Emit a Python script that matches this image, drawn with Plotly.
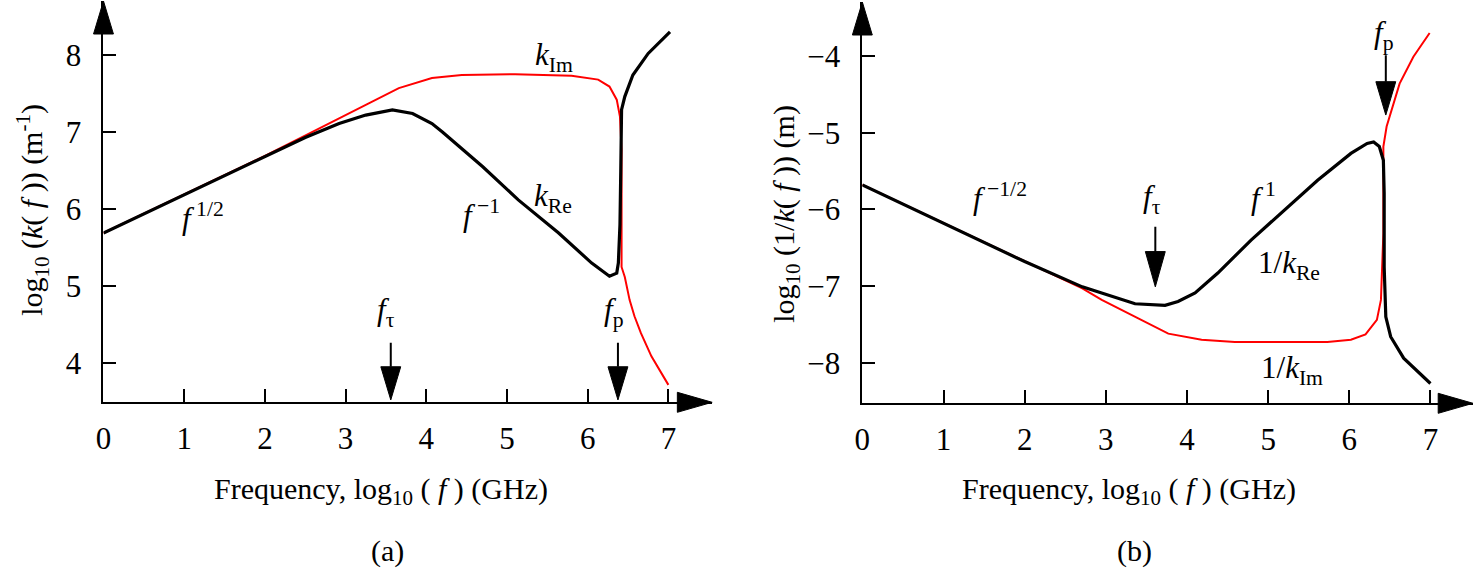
import plotly.graph_objects as go

W, H = 1475, 571
FONT = "Liberation Serif"

# ---------------- data: panel (a) ----------------
x_kre = [0, 1.0, 2.0, 2.5, 2.92, 3.25, 3.58, 3.83, 4.07, 4.2, 4.7, 5.14, 5.64, 6.05, 6.27,
         6.36, 6.38, 6.40, 6.41, 6.42, 6.46, 6.56, 6.75, 7.02]
y_kre = [5.69, 6.19, 6.69, 6.93, 7.11, 7.22, 7.287, 7.24, 7.11, 7.0, 6.55, 6.12, 5.69, 5.30, 5.13,
         5.17, 5.30, 5.8, 6.5, 7.29, 7.46, 7.74, 8.02, 8.30]
x_kim = [0, 1.0, 2.0, 2.51, 3.0, 3.66, 4.07, 4.44, 5.1, 5.8, 6.13, 6.27, 6.36, 6.40, 6.42,
         6.42, 6.46, 6.52, 6.58, 6.66, 6.79, 7.0]
y_kim = [5.69, 6.19, 6.69, 6.96, 7.22, 7.57, 7.70, 7.74, 7.75, 7.73, 7.68, 7.59, 7.42, 7.2, 6.77,
         5.25, 5.12, 4.82, 4.61, 4.39, 4.09, 3.72]

# ---------------- data: panel (b) ----------------
x_ikre = [0, 1.0, 2.0, 2.71, 2.95, 3.36, 3.73, 3.89, 4.10, 4.38, 4.79, 5.2, 5.61, 6.02, 6.22,
          6.30, 6.37, 6.42, 6.43, 6.43, 6.45, 6.51, 6.67, 7.0]
y_ikre = [-5.68, -6.18, -6.68, -7.01, -7.09, -7.23, -7.25, -7.20, -7.09, -6.83, -6.40, -6.01,
          -5.62, -5.27, -5.14, -5.12, -5.18, -5.36, -5.79, -6.75, -7.40, -7.66, -7.94, -8.27]
x_ikim = [0, 1.0, 2.0, 2.71, 2.95, 3.36, 3.77, 4.18, 4.59, 5.73, 6.02, 6.20, 6.34, 6.39, 6.42,
          6.42, 6.46, 6.62, 6.79, 6.99]
y_ikim = [-5.68, -6.18, -6.68, -7.03, -7.18, -7.40, -7.62, -7.70, -7.73, -7.73, -7.70, -7.63,
          -7.44, -7.18, -6.31, -5.18, -4.92, -4.36, -4.01, -3.70]

x_ticks = [0, 1, 2, 3, 4, 5, 6, 7]
ya_ticks = [4, 5, 6, 7, 8]
yb_ticks = [-8, -7, -6, -5, -4]

# marker arrows: (x, shaft top, head base, tip)
arrows_a = [(3.56, 4.265, 3.955, 3.525), (6.375, 4.265, 3.955, 3.525)]
arrows_b = [(3.61, -6.225, -6.55, -7.01), (6.45, -3.99, -4.335, -4.77)]

labels_a = [
    ("<i>k</i><sub>Im</sub>", 5.58, 7.97),
    ("<i>k</i><sub>Re</sub>", 5.57, 6.14),
    ("<i>f</i><sup> \u22121</sup>", 4.68, 5.94),
    ("<i>f</i><sup> 1/2</sup>", 1.23, 5.91),
    ("<i>f</i><sub>\u03c4</sub>", 3.50, 4.66),
    ("<i>f</i><sub>p</sub>", 6.32, 4.66),
]
labels_b = [
    ("<i>f</i><sup> \u22121/2</sup>", 1.70, -5.83),
    ("<i>f</i><sub>\u03c4</sub>", 3.57, -5.86),
    ("<i>f</i><sup> 1</sup>", 4.94, -5.83),
    ("1/<i>k</i><sub>Re</sub>", 5.26, -6.72),
    ("1/<i>k</i><sub>Im</sub>", 5.29, -8.09),
    ("<i>f</i><sub>p</sub>", 6.42, -3.72),
]

# ---------------- frame geometry (pixels) ----------------
A_X0, A_XTIP, A_YAX, A_YTIP = 96, 708, 402.3, 1
B_X0, B_XTIP, B_YAX, B_YTIP = 859, 1473, 403.3, 2
PX_PER_X_A, PX_PER_X_B = 81.14, 81.6
YA_RANGE = [3.494, 8.70]
YB_RANGE = [-8.528, -3.296]


def pxx(p):
    return p / W


def pxy(p):
    return 1 - p / H


fig = go.Figure()
fig.add_trace(go.Scatter(x=x_kim, y=y_kim, mode="lines", line=dict(color="#ff0000", width=2),
                         xaxis="x", yaxis="y", showlegend=False))
fig.add_trace(go.Scatter(x=x_kre, y=y_kre, mode="lines", line=dict(color="black", width=3.2),
                         xaxis="x", yaxis="y", showlegend=False))
fig.add_trace(go.Scatter(x=x_ikim, y=y_ikim, mode="lines", line=dict(color="#ff0000", width=2),
                         xaxis="x2", yaxis="y2", showlegend=False))
fig.add_trace(go.Scatter(x=x_ikre, y=y_ikre, mode="lines", line=dict(color="black", width=3.2),
                         xaxis="x2", yaxis="y2", showlegend=False))

axis_common = dict(showgrid=False, zeroline=False, showline=True, linecolor="black", linewidth=2,
                   ticks="inside", ticklen=13, tickwidth=2, tickcolor="black",
                   tickfont=dict(family=FONT, size=31, color="black"), fixedrange=True)

fig.update_layout(
    width=W, height=H, margin=dict(l=0, r=0, t=0, b=0),
    paper_bgcolor="white", plot_bgcolor="white",
    xaxis=dict(domain=[pxx(A_X0), pxx(A_XTIP)], range=[0, (A_XTIP - A_X0) / PX_PER_X_A],
               anchor="y", tickvals=x_ticks, ticklabelstandoff=7, **axis_common),
    yaxis=dict(domain=[pxy(A_YAX), pxy(A_YTIP)], range=YA_RANGE, anchor="x",
               tickvals=ya_ticks, ticklabelstandoff=14, **axis_common),
    xaxis2=dict(domain=[pxx(B_X0), pxx(B_XTIP)], range=[0, (B_XTIP - B_X0) / PX_PER_X_B],
                anchor="y2", tickvals=x_ticks, ticklabelstandoff=7, **axis_common),
    yaxis2=dict(domain=[pxy(B_YAX), pxy(B_YTIP)], range=YB_RANGE, anchor="x2",
                tickvals=yb_ticks, ticklabelstandoff=14, **axis_common),
)

shapes = []


def tri(p1, p2, p3):
    return dict(type="path", xref="paper", yref="paper",
                path=f"M {p1[0]},{p1[1]} L {p2[0]},{p2[1]} L {p3[0]},{p3[1]} Z",
                fillcolor="black", line=dict(color="black", width=1))


# axis arrowheads in paper coordinates
for x0, xtip, yax, ytip in [(A_X0, A_XTIP, A_YAX, A_YTIP), (B_X0, B_XTIP, B_YAX, B_YTIP)]:
    shapes.append(tri((pxx(xtip - 35), pxy(yax - 10)), (pxx(xtip - 35), pxy(yax + 10)),
                      (pxx(xtip), pxy(yax))))
    shapes.append(tri((pxx(x0 - 10), pxy(ytip + 33)), (pxx(x0 + 10), pxy(ytip + 33)),
                      (pxx(x0), pxy(ytip))))

# marker arrows in data coordinates
for arrows, xr, yr, hw in [(arrows_a, "x", "y", 10 / PX_PER_X_A), (arrows_b, "x2", "y2", 10 / PX_PER_X_B)]:
    for (xa, ytop, ybase, ytip) in arrows:
        shapes.append(dict(type="line", xref=xr, yref=yr, x0=xa, x1=xa, y0=ytop, y1=ybase,
                           line=dict(color="black", width=2)))
        shapes.append(dict(type="path", xref=xr, yref=yr,
                           path=f"M {xa - hw},{ybase} L {xa + hw},{ybase} L {xa},{ytip} Z",
                           fillcolor="black", line=dict(color="black", width=1)))
fig.update_layout(shapes=shapes)

ann = []
for txt, x, y in labels_a:
    ann.append(dict(text=txt, x=x, y=y, xref="x", yref="y", showarrow=False,
                    xanchor="center", yanchor="middle",
                    font=dict(family=FONT, size=31, color="black")))
for txt, x, y in labels_b:
    ann.append(dict(text=txt, x=x, y=y, xref="x2", yref="y2", showarrow=False,
                    xanchor="center", yanchor="middle",
                    font=dict(family=FONT, size=31, color="black")))

title_font = dict(family=FONT, size=30, color="black")
xt = "Frequency, log<sub>10</sub> ( <i>f</i> ) (GHz)"
paper_texts = [
    (xt, 375, 491, 0),
    (xt, 1127, 491, 0),
    ("(a)", 382, 551, 0),
    ("(b)", 1133, 551, 0),
    ("log<sub>10</sub> (<i>k</i>( <i>f</i> )) (m<sup>-1</sup>)", 24, 210, -90),
    ("log<sub>10</sub> (1/<i>k</i>( <i>f</i> )) (m)", 782, 214, -90),
]
for txt, px, py, ang in paper_texts:
    ann.append(dict(text=txt, x=pxx(px), y=pxy(py), xref="paper", yref="paper", showarrow=False,
                    xanchor="center", yanchor="middle", textangle=ang, font=title_font))
fig.update_layout(annotations=ann)

fig.write_html("out.html")
